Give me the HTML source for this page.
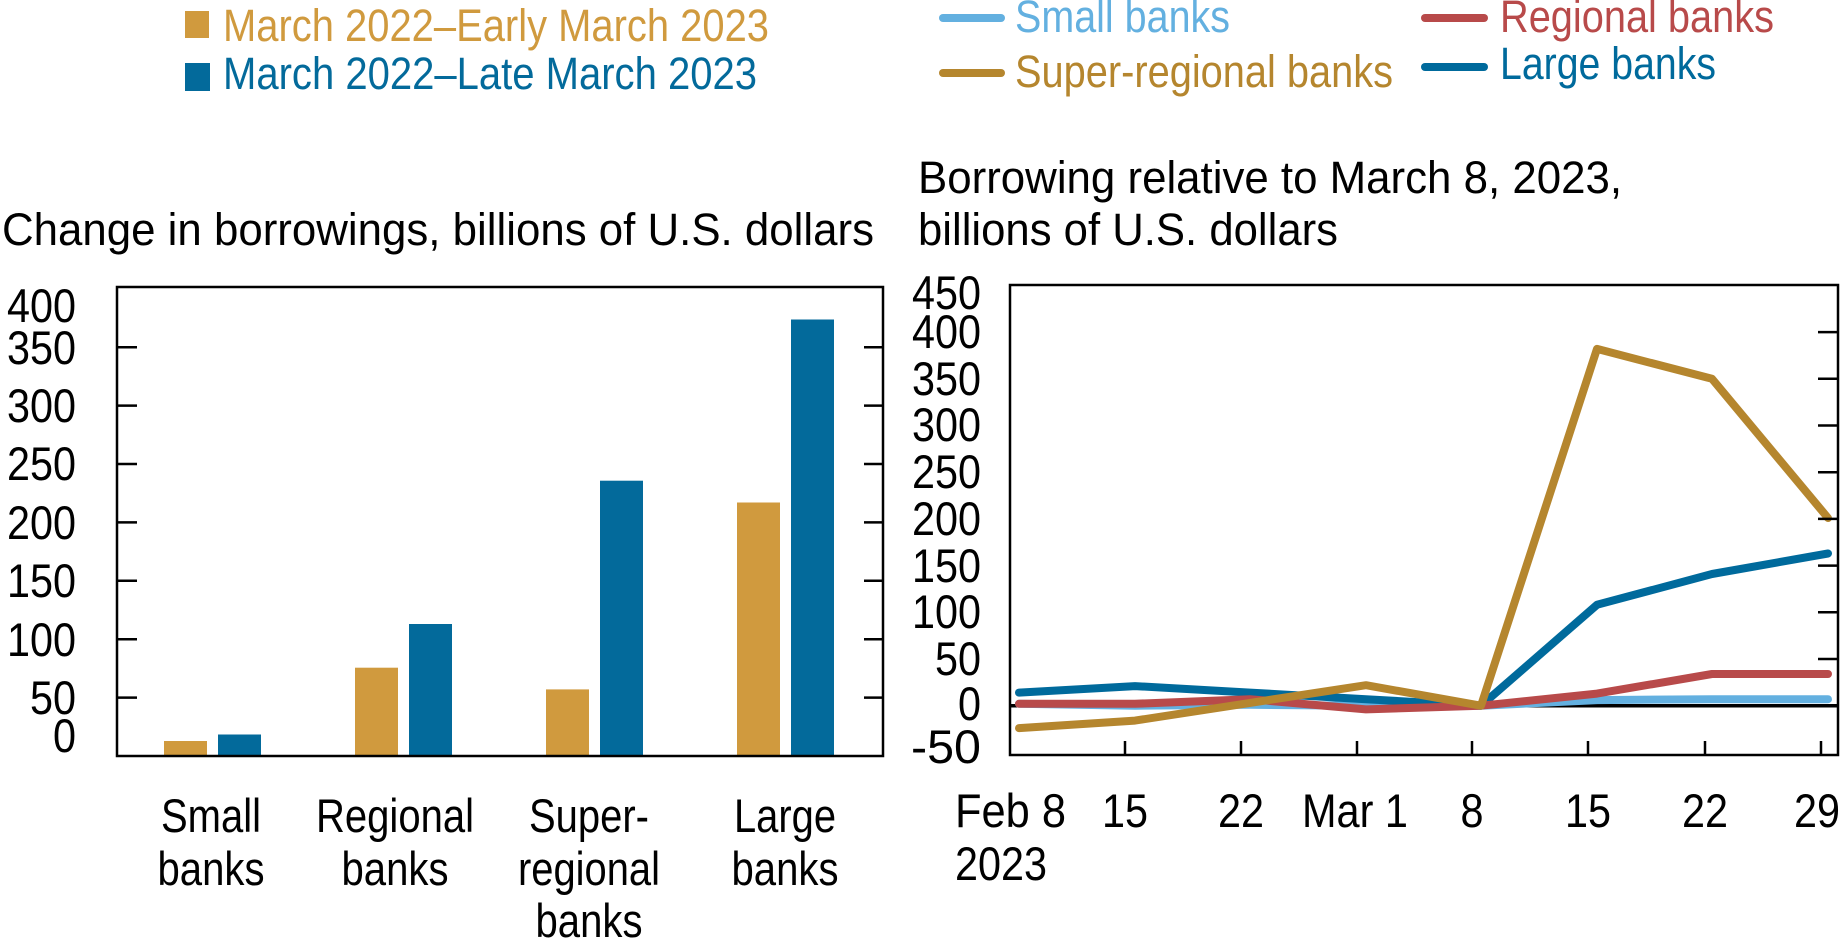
<!DOCTYPE html>
<html><head><meta charset="utf-8"><style>html,body{margin:0;padding:0;background:#fff}svg{display:block}text{font-family:"Liberation Sans",Arial,sans-serif;fill:#000}</style></head>
<body>
<svg width="1840" height="939" viewBox="0 0 1840 939" xmlns="http://www.w3.org/2000/svg">
<!-- Legends -->
<rect x="185" y="11" width="24" height="27" fill="#d09a3e"/>
<text x="223" y="41" font-size="45" style="fill:#d09a3e" textLength="546" lengthAdjust="spacingAndGlyphs">March 2022–Early March 2023</text>
<rect x="185" y="63" width="25" height="28" fill="#036a9b"/>
<text x="223" y="89" font-size="45" style="fill:#036a9b" textLength="534" lengthAdjust="spacingAndGlyphs">March 2022–Late March 2023</text>
<line x1="943" y1="18" x2="1001" y2="18" stroke="#63b0e0" stroke-width="8" stroke-linecap="round"/>
<text x="1015" y="32" font-size="45" style="fill:#63b0e0" textLength="215" lengthAdjust="spacingAndGlyphs">Small banks</text>
<line x1="1425" y1="18" x2="1484" y2="18" stroke="#b84a4a" stroke-width="8" stroke-linecap="round"/>
<text x="1500" y="32" font-size="45" style="fill:#b84a4a" textLength="274" lengthAdjust="spacingAndGlyphs">Regional banks</text>
<line x1="943" y1="73" x2="1001" y2="73" stroke="#b5862e" stroke-width="8" stroke-linecap="round"/>
<text x="1015" y="87" font-size="45" style="fill:#b5862e" textLength="378" lengthAdjust="spacingAndGlyphs">Super-regional banks</text>
<line x1="1425" y1="67" x2="1484" y2="67" stroke="#006a9c" stroke-width="8" stroke-linecap="round"/>
<text x="1500" y="79" font-size="45" style="fill:#006a9c" textLength="216" lengthAdjust="spacingAndGlyphs">Large banks</text>

<!-- Titles -->
<text x="2" y="245" font-size="45" textLength="872" lengthAdjust="spacingAndGlyphs">Change in borrowings, billions of U.S. dollars</text>
<text x="918" y="193" font-size="45" textLength="704" lengthAdjust="spacingAndGlyphs">Borrowing relative to March 8, 2023,</text>
<text x="918" y="245" font-size="45" textLength="420" lengthAdjust="spacingAndGlyphs">billions of U.S. dollars</text>

<!-- Left chart -->
<g>
<rect x="164" y="741" width="43" height="15" fill="#d09a3e"/>
<rect x="218" y="734.5" width="43" height="21.5" fill="#036a9b"/>
<rect x="355" y="667.7" width="43" height="88.3" fill="#d09a3e"/>
<rect x="409" y="624" width="43" height="132" fill="#036a9b"/>
<rect x="546" y="689.4" width="43" height="66.6" fill="#d09a3e"/>
<rect x="600" y="480.7" width="43" height="275.3" fill="#036a9b"/>
<rect x="737" y="502.5" width="43" height="253.5" fill="#d09a3e"/>
<rect x="791" y="319.5" width="43" height="436.5" fill="#036a9b"/>
<rect x="117" y="287" width="766" height="469" fill="none" stroke="#000" stroke-width="2.5"/>
<g stroke="#000" stroke-width="2.5">
<line x1="117" y1="697.6" x2="137" y2="697.6"/><line x1="864" y1="697.6" x2="883" y2="697.6"/>
<line x1="117" y1="639.2" x2="137" y2="639.2"/><line x1="864" y1="639.2" x2="883" y2="639.2"/>
<line x1="117" y1="580.8" x2="137" y2="580.8"/><line x1="864" y1="580.8" x2="883" y2="580.8"/>
<line x1="117" y1="522.4" x2="137" y2="522.4"/><line x1="864" y1="522.4" x2="883" y2="522.4"/>
<line x1="117" y1="464" x2="137" y2="464"/><line x1="864" y1="464" x2="883" y2="464"/>
<line x1="117" y1="405.6" x2="137" y2="405.6"/><line x1="864" y1="405.6" x2="883" y2="405.6"/>
<line x1="117" y1="347.2" x2="137" y2="347.2"/><line x1="864" y1="347.2" x2="883" y2="347.2"/>
</g>
<g font-size="47" text-anchor="end" lengthAdjust="spacingAndGlyphs">
<text x="76" y="752" textLength="23" lengthAdjust="spacingAndGlyphs">0</text>
<text x="76" y="714" textLength="46" lengthAdjust="spacingAndGlyphs">50</text>
<text x="76" y="656" textLength="69" lengthAdjust="spacingAndGlyphs">100</text>
<text x="76" y="597" textLength="69" lengthAdjust="spacingAndGlyphs">150</text>
<text x="76" y="539" textLength="69" lengthAdjust="spacingAndGlyphs">200</text>
<text x="76" y="480" textLength="69" lengthAdjust="spacingAndGlyphs">250</text>
<text x="76" y="422" textLength="69" lengthAdjust="spacingAndGlyphs">300</text>
<text x="76" y="364" textLength="69" lengthAdjust="spacingAndGlyphs">350</text>
<text x="76" y="322" textLength="69" lengthAdjust="spacingAndGlyphs">400</text>
</g>
<g font-size="47" text-anchor="middle">
<text x="211" y="832" textLength="100" lengthAdjust="spacingAndGlyphs">Small</text><text x="211" y="885" textLength="107" lengthAdjust="spacingAndGlyphs">banks</text>
<text x="395" y="832" textLength="158" lengthAdjust="spacingAndGlyphs">Regional</text><text x="395" y="885" textLength="107" lengthAdjust="spacingAndGlyphs">banks</text>
<text x="589" y="832" textLength="120" lengthAdjust="spacingAndGlyphs">Super-</text><text x="589" y="885" textLength="142" lengthAdjust="spacingAndGlyphs">regional</text><text x="589" y="937" textLength="107" lengthAdjust="spacingAndGlyphs">banks</text>
<text x="785" y="832" textLength="102" lengthAdjust="spacingAndGlyphs">Large</text><text x="785" y="885" textLength="107" lengthAdjust="spacingAndGlyphs">banks</text>
</g>
</g>

<!-- Right chart -->
<g>
<defs><clipPath id="c"><rect x="1010" y="285" width="828" height="470"/></clipPath></defs>
<line x1="1010" y1="705.7" x2="1838" y2="705.7" stroke="#000" stroke-width="3.5"/>
<g clip-path="url(#c)" fill="none" stroke-width="8" stroke-linejoin="round" stroke-linecap="round">
<polyline stroke="#63b0e0" points="1019,703.8 1135,705.7 1250,704.8 1366,705.7 1481,705.7 1597,700.1 1712,699.2 1828,699.2"/>
<polyline stroke="#006a9c" points="1019,692.6 1135,686.1 1250,692.6 1366,699.2 1481,705.7 1597,604.8 1712,574 1828,553.5"/>
<polyline stroke="#b84a4a" points="1019,703.8 1135,703.8 1250,699.2 1366,709.4 1481,705.7 1597,693.6 1712,674 1828,674"/>
<polyline stroke="#b5862e" points="1019,728.1 1135,720.6 1250,702.9 1366,685.2 1481,705.7 1597,348.9 1712,378.8 1828,518"/>
</g>
<rect x="1010" y="285" width="828" height="470" fill="none" stroke="#000" stroke-width="2.5"/>
<g stroke="#000" stroke-width="2.5">
<line x1="1818" y1="659" x2="1838" y2="659"/>
<line x1="1818" y1="612.3" x2="1838" y2="612.3"/>
<line x1="1818" y1="565.6" x2="1838" y2="565.6"/>
<line x1="1818" y1="518.9" x2="1838" y2="518.9"/>
<line x1="1818" y1="472.2" x2="1838" y2="472.2"/>
<line x1="1818" y1="425.5" x2="1838" y2="425.5"/>
<line x1="1818" y1="378.8" x2="1838" y2="378.8"/>
<line x1="1818" y1="332.1" x2="1838" y2="332.1"/>
<line x1="1125" y1="755" x2="1125" y2="741"/>
<line x1="1241" y1="755" x2="1241" y2="741"/>
<line x1="1357" y1="755" x2="1357" y2="741"/>
<line x1="1472" y1="755" x2="1472" y2="741"/>
<line x1="1588" y1="755" x2="1588" y2="741"/>
<line x1="1705" y1="755" x2="1705" y2="741"/>
<line x1="1821" y1="755" x2="1821" y2="741"/>
</g>
<g font-size="47" text-anchor="end">
<text x="981" y="763" textLength="70" lengthAdjust="spacingAndGlyphs">-50</text>
<text x="981" y="720" textLength="23" lengthAdjust="spacingAndGlyphs">0</text>
<text x="981" y="675" textLength="46" lengthAdjust="spacingAndGlyphs">50</text>
<text x="981" y="628" textLength="69" lengthAdjust="spacingAndGlyphs">100</text>
<text x="981" y="582" textLength="69" lengthAdjust="spacingAndGlyphs">150</text>
<text x="981" y="535" textLength="69" lengthAdjust="spacingAndGlyphs">200</text>
<text x="981" y="488" textLength="69" lengthAdjust="spacingAndGlyphs">250</text>
<text x="981" y="441" textLength="69" lengthAdjust="spacingAndGlyphs">300</text>
<text x="981" y="395" textLength="69" lengthAdjust="spacingAndGlyphs">350</text>
<text x="981" y="348" textLength="69" lengthAdjust="spacingAndGlyphs">400</text>
<text x="981" y="309" textLength="69" lengthAdjust="spacingAndGlyphs">450</text>
</g>
<g font-size="47">
<text x="955" y="827" textLength="111" lengthAdjust="spacingAndGlyphs">Feb 8</text>
<text x="955" y="880" textLength="92" lengthAdjust="spacingAndGlyphs">2023</text>
<text x="1125" y="827" text-anchor="middle" textLength="46" lengthAdjust="spacingAndGlyphs">15</text>
<text x="1241" y="827" text-anchor="middle" textLength="46" lengthAdjust="spacingAndGlyphs">22</text>
<text x="1355" y="827" text-anchor="middle" textLength="106" lengthAdjust="spacingAndGlyphs">Mar 1</text>
<text x="1472" y="827" text-anchor="middle" textLength="23" lengthAdjust="spacingAndGlyphs">8</text>
<text x="1588" y="827" text-anchor="middle" textLength="46" lengthAdjust="spacingAndGlyphs">15</text>
<text x="1705" y="827" text-anchor="middle" textLength="46" lengthAdjust="spacingAndGlyphs">22</text>
<text x="1817" y="827" text-anchor="middle" textLength="46" lengthAdjust="spacingAndGlyphs">29</text>
</g>
</g>
</svg>
</body></html>
